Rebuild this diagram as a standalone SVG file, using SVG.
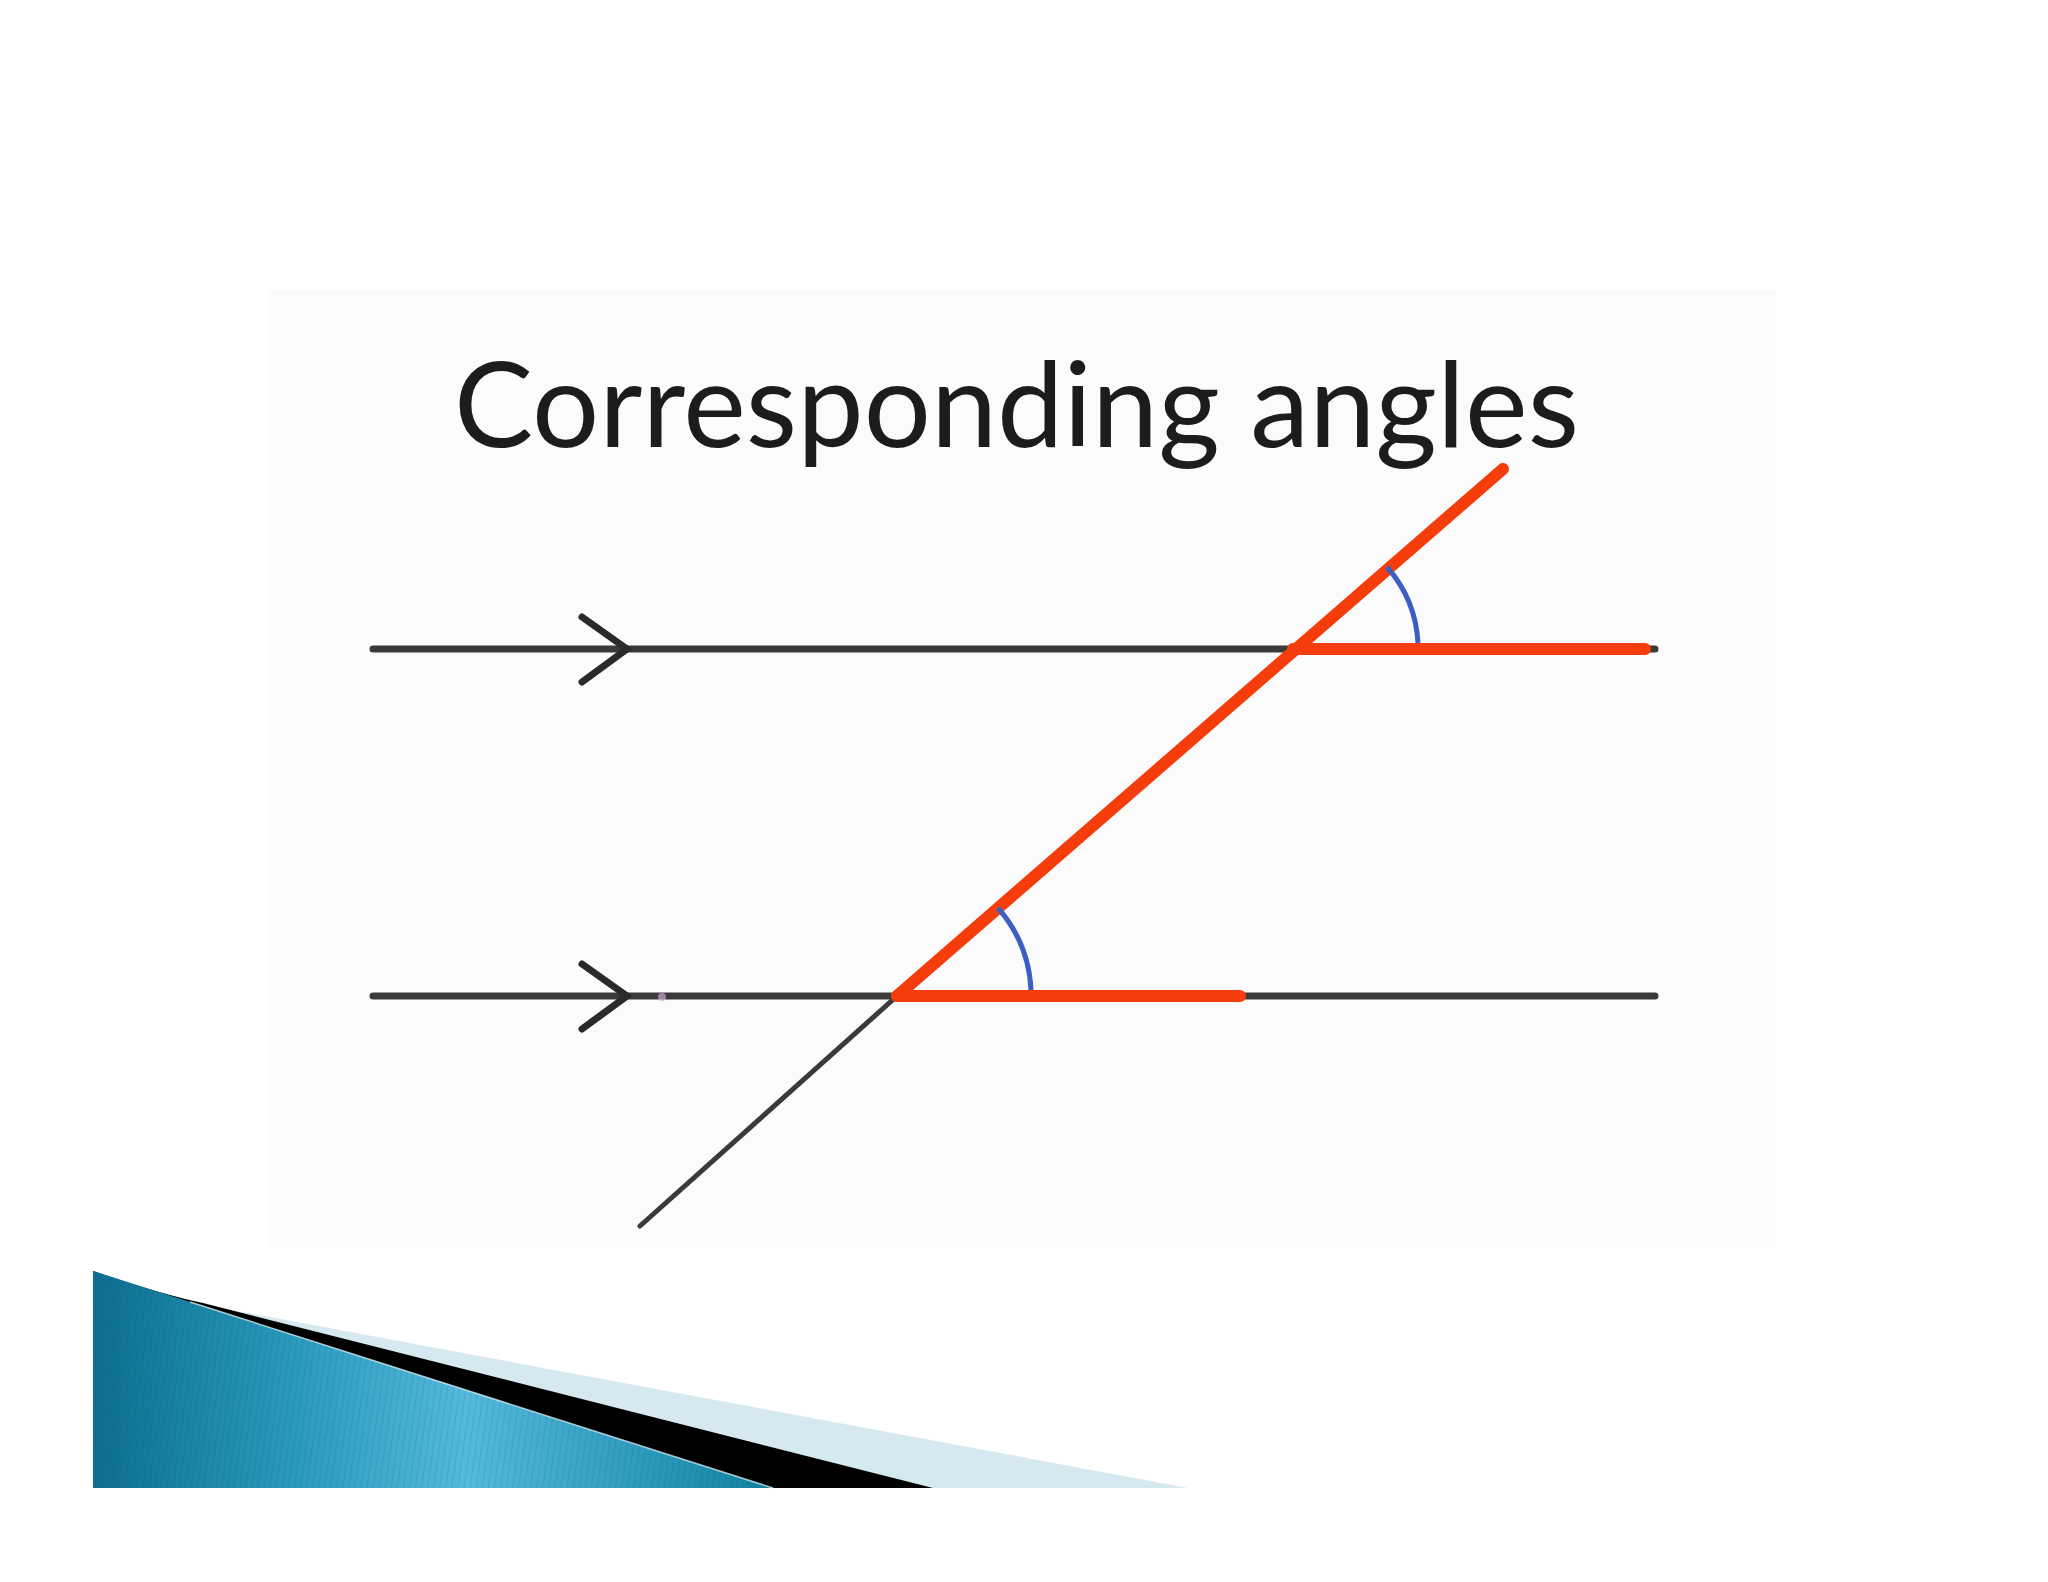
<svg xmlns="http://www.w3.org/2000/svg" width="2048" height="1582" viewBox="0 0 2048 1582">
  <defs>
    <linearGradient id="blueGrad" x1="93" y1="0" x2="773" y2="0" gradientUnits="userSpaceOnUse">
      <stop offset="0" stop-color="#0d6e8e"/>
      <stop offset="0.3" stop-color="#2a9bbd"/>
      <stop offset="0.55" stop-color="#55b9dc"/>
      <stop offset="0.85" stop-color="#2795b6"/>
      <stop offset="1" stop-color="#137f9e"/>
    </linearGradient>
    <pattern id="stripes" width="6" height="20" patternUnits="userSpaceOnUse" patternTransform="rotate(8)">
      <rect x="0" y="0" width="1" height="20" fill="#0a5f7a" opacity="0.18"/>
    </pattern>
  </defs>
  <style>
    .gray { stroke: #3a3a3a; stroke-width: 7; fill: none; stroke-linecap: round; }
    .chev { stroke: #2a2a2a; stroke-width: 7; fill: none; stroke-linecap: round; stroke-linejoin: miter; }
    .red { stroke: #f53d0c; stroke-width: 12; fill: none; stroke-linecap: round; }
    .arc { stroke: #3d5fc4; stroke-width: 5; fill: none; }
    .title { font-family: "Lato", "Open Sans", "Liberation Sans", sans-serif; font-size: 118px; fill: #1c1c1c; }
  </style>
  <rect width="2048" height="1582" fill="#ffffff"/>
  <rect x="268" y="290" width="1508" height="957" fill="#fbfbfb"/>

  <g id="title">
    <text class="title" x="454" y="447" textLength="1125" lengthAdjust="spacingAndGlyphs">Corresponding angles</text>
  </g>

  <g id="connectors">
    <line class="gray" x1="373" y1="649" x2="1655" y2="649"/>
    <line class="gray" x1="373" y1="996" x2="1655" y2="996"/>
    <polyline class="chev" points="582,617 627,649 582,682"/>
    <polyline class="chev" points="582,964 627,996 582,1029"/>
    <circle cx="662" cy="997" r="4" fill="#c8a6cc" opacity="0.7"/>
    <line class="gray" x1="897" y1="996" x2="640" y2="1226" style="stroke-width:5"/>
    <line class="red" x1="897" y1="996" x2="1503" y2="469"/>
    <line class="red" x1="1293" y1="649" x2="1645" y2="649"/>
    <line class="red" x1="897" y1="996" x2="1240" y2="996"/>
    <path class="arc" d="M1387,567 A125,125 0 0 1 1418,643"/>
    <path class="arc" d="M998,908 A134,134 0 0 1 1031,990"/>
  </g>

  <g id="decoration">
    <path d="M93,1271 Q170,1298 232,1310 L1188,1488 L93,1488 Z" fill="#d6e8f0"/>
    <path d="M93,1271 Q160,1294 203,1303 L933,1488 L93,1488 Z" fill="#000000"/>
    <path d="M93,1271 L773,1488 L93,1488 Z" fill="url(#blueGrad)"/>
    <path d="M93,1271 L773,1488 L93,1488 Z" fill="url(#stripes)"/>
    <line x1="190" y1="1302" x2="773" y2="1488" stroke="#cfeaf5" stroke-width="1.5" opacity="0.8"/>
  </g>
</svg>
